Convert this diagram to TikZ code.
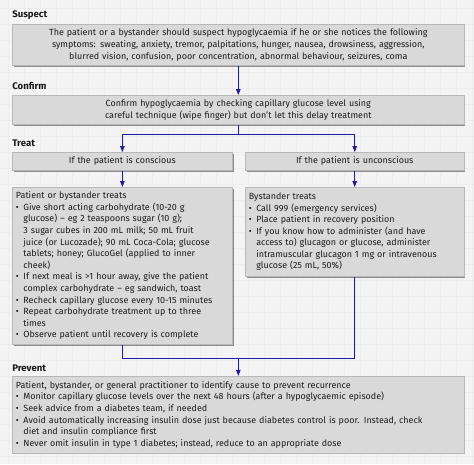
\documentclass[tikz,border=0pt]{standalone}
\usepackage{fontspec}
\setmainfont{Fira Sans}
\usetikzlibrary{arrows.meta,shadows,calc}
\definecolor{bg}{HTML}{F4F4F4}
\definecolor{gridc}{HTML}{EDEDED}
\definecolor{boxfill}{HTML}{D9D9D9}
\definecolor{boxline}{HTML}{B8B8B8}
\definecolor{shadowc}{HTML}{8C8C8C}
\definecolor{flow}{RGB}{30,30,165}
\definecolor{txt}{HTML}{1A1A1A}
\newcommand\bul{\par\noindent\hangindent=7.5pt\hangafter=1\makebox[7.5pt][l]{•}}
\newcommand\nl{\hfil\break}
\begin{document}
\begin{tikzpicture}[x=1pt,y=-1pt,
  box/.style={draw=boxline, line width=0.6pt, fill=boxfill,
    drop shadow={shadow xshift=1.3pt, shadow yshift=-1.3pt, fill=shadowc, opacity=1},
    anchor=north west, inner xsep=3.2pt, inner ysep=0pt,
    font=\fontsize{8.95}{11.6}\selectfont, text=txt},
  cbox/.style={box, align=center},
  lbox/.style={box, align=left},
  stage/.style={anchor=base west, inner sep=0pt, text=txt, font=\bfseries\fontsize{9.6}{11}\selectfont},
  flowline/.style={draw=flow, line width=1.1pt},
  flowarrow/.style={flowline, -{Triangle[length=6pt,width=4.5pt]}}]
\path[fill=bg] (0,0) rectangle (474,464);
\foreach \gx in {8,24,...,472} \draw[gridc, line width=0.3pt] (\gx,0) -- (\gx,464);
\foreach \gy in {8,24,...,462} \draw[gridc, line width=0.3pt] (0,\gy) -- (474,\gy);

\node[stage] (ls) at (12,17.5) {Suspect};
\node[cbox, minimum width=452pt, minimum height=41pt, text width=445pt] (S) at (12,24)
  {The patient or a bystander should suspect hypoglycaemia if he or she notices the following\\
   symptoms: sweating, anxiety, tremor, palpitations, hunger, nausea, drowsiness, aggression,\\
   blurred vision, confusion, poor concentration, abnormal behaviour, seizures, coma};

\node[stage] (lc) at (12,89) {Confirm};
\node[cbox, minimum width=452pt, minimum height=29pt, text width=445pt] (C) at (12,95)
  {Confirm hypoglycaemia by checking capillary glucose level using\\
   careful technique (wipe finger) but don’t let this delay treatment};

\node[stage] (lt) at (12,146) {Treat};
\node[cbox, minimum width=220pt, minimum height=18pt, text width=213pt] (K1) at (12,152)
  {If the patient is conscious};
\node[cbox, minimum width=219pt, minimum height=18pt, text width=212pt] (K2) at (245,152)
  {If the patient is unconscious};

\node[lbox, minimum width=220pt, minimum height=157pt, text width=213pt] (L) at (12,187)
  {\noindent Patient or bystander treats
   \bul Give short acting carbohydrate (10-20 g\nl
   glucose) – eg 2 teaspoons sugar (10 g);\nl
   3 sugar cubes in 200 mL milk; 50 mL fruit\nl
   juice (or Lucozade); 90 mL Coca-Cola; glucose\nl
   tablets; honey; GlucoGel (applied to inner\nl
   cheek)
   \bul If next meal is >1 hour away, give the patient\nl
   complex carbohydrate – eg sandwich, toast
   \bul Recheck capillary glucose every 10-15 minutes
   \bul Repeat carbohydrate treatment up to three\nl
   times
   \bul Observe patient until recovery is complete\par};

\node[lbox, minimum width=219pt, minimum height=89pt, text width=212pt] (R) at (245,187)
  {\noindent Bystander treats
   \bul Call 999 (emergency services)
   \bul Place patient in recovery position
   \bul If you know how to administer (and have\nl
   access to) glucagon or glucose, administer\nl
   intramuscular glucagon 1 mg or intravenous\nl
   glucose (25 mL, 50\%)\par};

\node[stage] (lp) at (12,371.5) {Prevent};
\node[lbox, minimum width=452pt, minimum height=77pt, text width=445pt] (P) at (12,376)
  {\noindent Patient, bystander, or general practitioner to identify cause to prevent recurrence
   \bul Monitor capillary glucose levels over the next 48 hours (after a hypoglycaemic episode)
   \bul Seek advice from a diabetes team, if needed
   \bul Avoid automatically increasing insulin dose just because diabetes control is poor. Instead, check\nl
   diet and insulin compliance first
   \bul Never omit insulin in type 1 diabetes; instead, reduce to an appropriate dose\par};

% connectors
\draw[flowarrow] (S.south) -- (C.north);
\coordinate (j1) at ($(C.south)+(0,10)$);
\draw[flowline] (C.south) -- (j1);
\draw[flowarrow] (j1) -| (K1.north);
\draw[flowarrow] (j1) -| (K2.north);
\draw[flowarrow] (K1.south) -- (L.north);
\draw[flowarrow] (K2.south) -- (R.north);
\coordinate (j2) at ($(C.south |- 0,359)$);
\draw[flowline] (L.south) |- (j2);
\draw[flowline] (R.south) |- (j2);
\draw[flowarrow] (j2) -- (P.north);
\end{tikzpicture}
\end{document}
